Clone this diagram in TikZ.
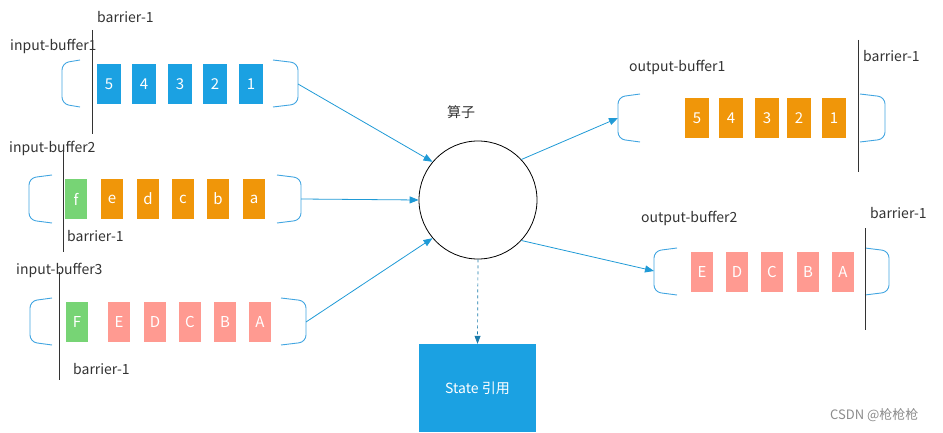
\documentclass[tikz,border=0pt]{standalone}
\usepackage{fontspec}
\setmainfont{Noto Sans CJK SC}
\usetikzlibrary{arrows.meta}
\definecolor{cblue}{HTML}{1BA1E2}
\definecolor{corange}{HTML}{F09609}
\definecolor{cgreen}{HTML}{77D475}
\definecolor{cpink}{HTML}{FF9A91}
\definecolor{brk}{HTML}{41A5E1}
\definecolor{arr}{HTML}{1F9AD6}
\tikzset{
 cell/.style={minimum width=24pt,minimum height=40pt,inner sep=0pt,text=white,font=\fontsize{15}{17}\selectfont},
 lab/.style={anchor=west,inner sep=0pt,font=\fontsize{14}{16}\selectfont,text=black!80},
 bar/.style={draw=black!80,line width=1pt},
 brkt/.style={draw=brk,line width=0.9pt,rounded corners=7pt},
 conn/.style={draw=arr,line width=0.8pt,-{Triangle[length=9pt,width=7pt]}},
}
\begin{document}
\begin{tikzpicture}[x=1pt,y=-1pt]
\useasboundingbox (0,0) rectangle (943,433);
% buffer 1
\draw[brkt] (80,60) -- (62,63) -- (62,104) -- (80,107);
\draw[brkt] (273,60) -- (298,63) -- (298,104) -- (273,107);
\coordinate (i1) at (298,84);
\foreach \x/\t in {109/5,144/4,180/3,215/2,251/1} \node[cell,fill=cblue] at (\x,84) {\t};
\draw[bar] (92,30) -- (92,134);
\node[lab] (l1) at (10,46) {input-buffer1};
\node[lab] (b1) at (97,17) {barrier-1};
% buffer 2
\draw[brkt] (52,175) -- (29,178) -- (29,220) -- (52,223);
\draw[brkt] (277,175) -- (301,178) -- (301,220) -- (277,223);
\coordinate (i2) at (301,199);
\node[cell,fill=cgreen,minimum width=22pt] at (76,199) {f};
\foreach \x/\t in {112/e,148/d,183/c,218/b,254/a} \node[cell,fill=corange,minimum width=22pt] at (\x,199) {\t};
\draw[bar] (63,150) -- (63,252);
\node[lab] (l2) at (9,148) {input-buffer2};
\node[lab] (b2) at (67,236) {barrier-1};
% buffer 3
\draw[brkt] (52,298) -- (30,301) -- (30,342) -- (52,345);
\draw[brkt] (281,298) -- (306,301) -- (306,342) -- (281,345);
\coordinate (i3) at (306,322);
\node[cell,fill=cgreen,minimum width=22pt] at (77,322) {F};
\foreach \x/\t in {119/E,155/D,190/C,225/B,260/A} \node[cell,fill=cpink,minimum width=22pt] at (\x,322) {\t};
\draw[bar] (59,272) -- (59,380);
\node[lab] (l3) at (16,270) {input-buffer3};
\node[lab] (b3) at (73,369) {barrier-1};
% operator
\node[circle,draw=black,line width=0.8pt,minimum size=118pt,inner sep=0pt] (op) at (478,200) {};
\node[lab] (opl) at (447,112) {算子};
\draw[conn] (i1) -- (op.140);
\draw[conn] (i2) -- (op.west);
\draw[conn] (i3) -- (op.220);
% output 1
\draw[brkt] (640,94) -- (618,97) -- (618,139) -- (640,142);
\draw[brkt] (860,94) -- (885,97) -- (885,139) -- (860,142);
\coordinate (o1) at (618,118);
\foreach \x/\t in {697/5,731/4,767/3,799/2,834/1} \node[cell,fill=corange] at (\x,118) {\t};
\draw[bar] (858,40) -- (858,172);
\node[lab] (l4) at (629,67) {output-buffer1};
\node[lab] (b4) at (863,56) {barrier-1};
% output 2
\draw[brkt] (677,248) -- (654,251) -- (654,292) -- (677,295);
\draw[brkt] (865,248) -- (889,251) -- (889,292) -- (865,295);
\coordinate (o2) at (654,271);
\foreach \x/\t in {702/E,737/D,772/C,808/B,843/A} \node[cell,fill=cpink,minimum width=22pt] at (\x,272) {\t};
\draw[bar] (865,228) -- (865,330);
\node[lab] (l5) at (641,218) {output-buffer2};
\node[lab] (b5) at (870,213) {barrier-1};
\draw[conn] (op.43) -- (o1);
\draw[conn] (op.-43) -- (o2);
% state
\node[fill=cblue,minimum width=117pt,minimum height=88pt,inner sep=0pt,text=white,font=\fontsize{14}{16}\selectfont] (st) at (477.5,388) {State 引用};
\draw[draw=arr!80!black,line width=0.7pt,dashed,-{Triangle[length=8pt,width=6pt]}] (op.south) -- (st.north);
\node[lab,text=black!45,font=\fontsize{13}{15}\selectfont] (wm) at (830,415) {CSDN @枪枪枪};
\end{tikzpicture}
\end{document}
